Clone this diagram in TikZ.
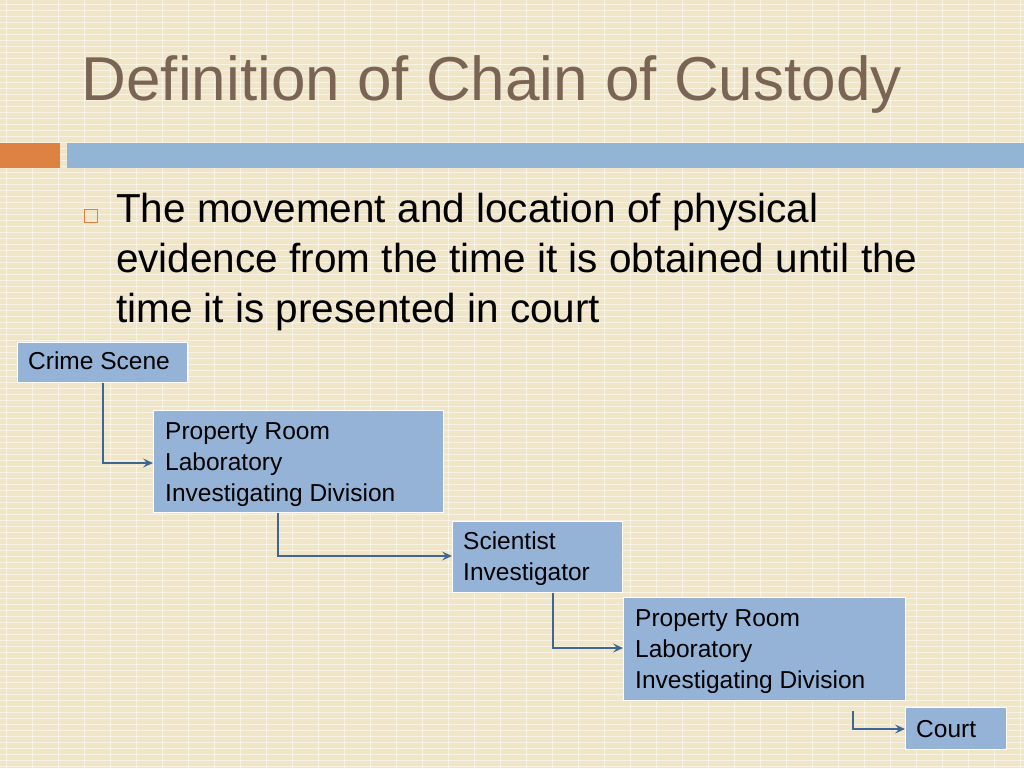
\documentclass[tikz,border=0pt]{standalone}
\usetikzlibrary{arrows.meta}
\usepackage{fontspec}
\setmainfont{Liberation Sans}
\definecolor{bg}{HTML}{F1E5C8}
\definecolor{boxc}{HTML}{95B3D7}
\definecolor{barb}{HTML}{93B5D5}
\definecolor{baro}{HTML}{DE8244}
\definecolor{ttl}{HTML}{7A6555}
\definecolor{lnc}{HTML}{3F6690}
\begin{document}
\begin{tikzpicture}[x=1pt,y=-1pt,
  bx/.style={draw=white,line width=1.2pt,fill=boxc,anchor=north west,inner sep=0pt},
  lbl/.style={anchor=north west,align=left,inner sep=0pt,font=\fontsize{24.5}{31}\selectfont},
  conn/.style={draw=lnc,line width=1.5pt,-{Stealth[length=10pt,width=9pt,inset=4pt]}}]
\useasboundingbox (0,0) rectangle (1024,768);
\fill[bg] (0,0) rectangle (1024,768);
\foreach \y in {4,10,...,768} \draw[white,opacity=0.5,line width=0.6pt] (0,\y) -- (1024,\y);
\foreach \x in {6,32,...,1024} \draw[white,opacity=0.5,line width=0.6pt] (\x,0) -- (\x,768);
\fill[baro] (0,143) rectangle (60,168);
\fill[barb] (67,143) rectangle (1024,168);
\node[anchor=west,text=ttl,font=\fontsize{62}{70}\selectfont] (title) at (78,84) {Definition of Chain of Custody};
\node[draw=baro,line width=1pt,minimum size=13pt,inner sep=0pt] (bul) at (91,216) {};
\node[anchor=north west,align=left,inner sep=0pt,font=\fontsize{40.5}{50}\selectfont] (txt) at (116,193) {The movement and location of physical\\evidence from the time it is obtained until the\\time it is presented in court};
\path (17,342) node[bx,minimum width=170pt,minimum height=40pt] (a) {};
\node[lbl] at (28,352) {Crime Scene};
\path (153,410) node[bx,minimum width=290pt,minimum height=102pt] (b) {};
\node[lbl] at (165,422) {Property Room\\Laboratory\\Investigating Division};
\path (452,521) node[bx,minimum width=170pt,minimum height=71pt] (c) {};
\node[lbl] at (463,532) {Scientist\\Investigator};
\path (623,597) node[bx,minimum width=282pt,minimum height=103pt] (d) {};
\node[lbl] at (635,609) {Property Room\\Laboratory\\Investigating Division};
\path (905,707) node[bx,minimum width=101pt,minimum height=42pt] (e) {};
\node[lbl] at (916,720) {Court};
\draw[conn] (a.south west) ++(86,0) |- (b.west |- 0,463);
\draw[conn] (b.south west) ++(125,0) |- (c.west |- 0,556);
\draw[conn] (c.south west) ++(101,0) |- (d.west |- 0,648);
\draw[conn] (d.south west) ++(230,10) |- (e.west |- 0,729);
\end{tikzpicture}
\end{document}
